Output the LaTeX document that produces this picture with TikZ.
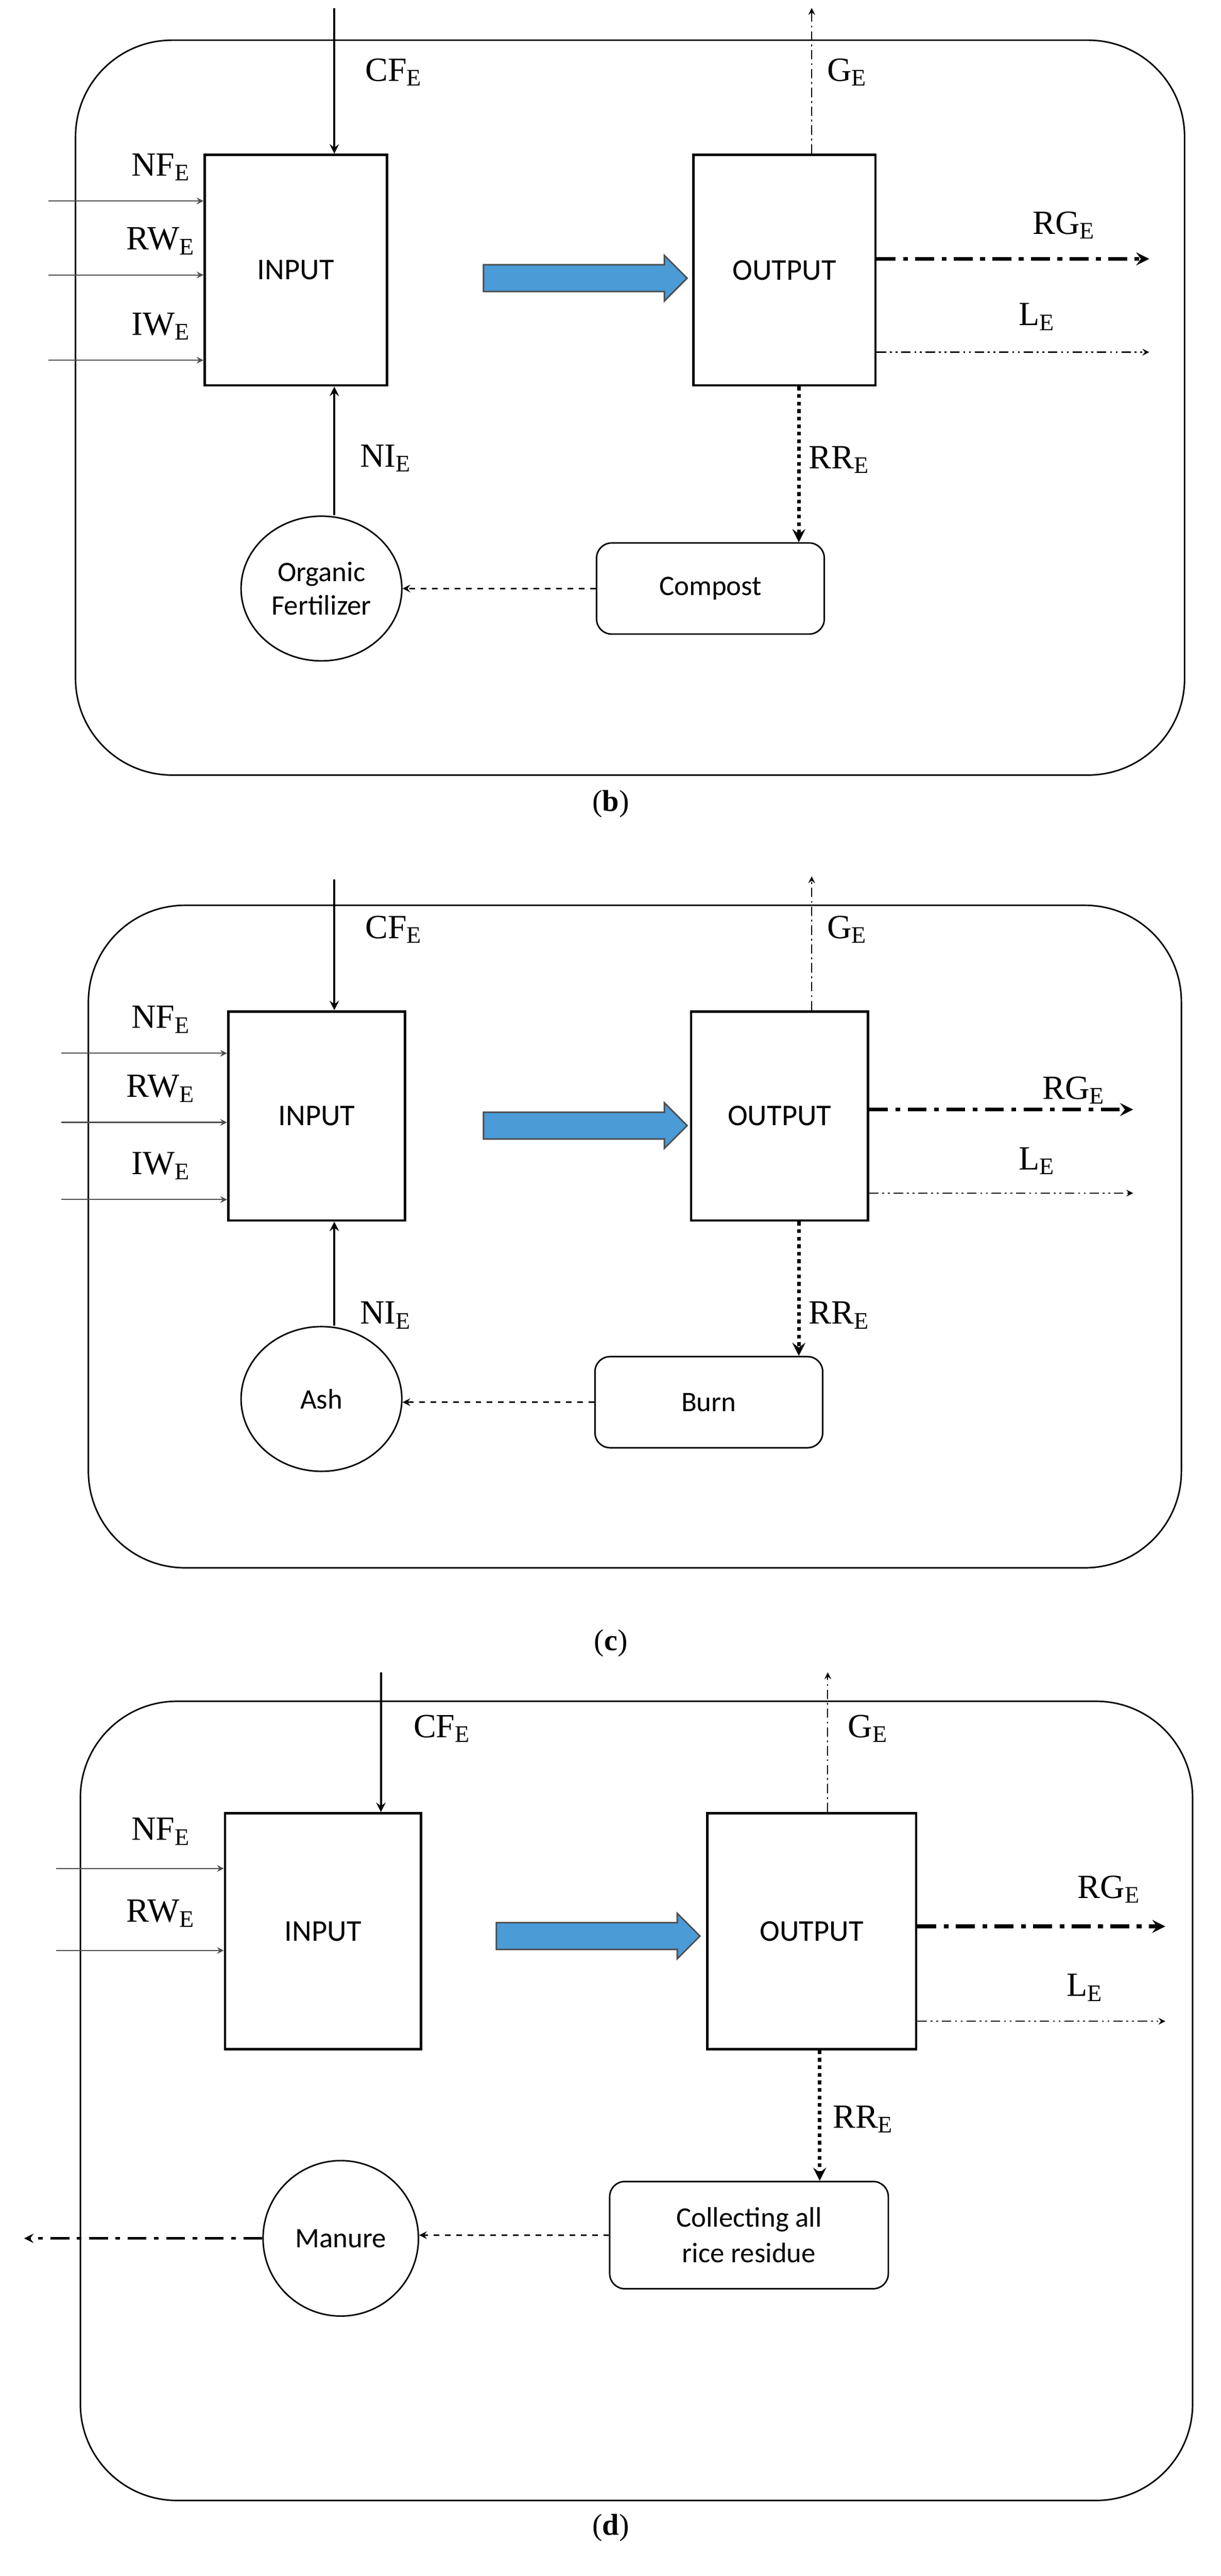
\documentclass[tikz,border=0pt]{standalone}
\usepackage{fontspec}
\setmainfont{Liberation Serif}
\newfontfamily\sansfam{Carlito}
\usetikzlibrary{shapes.geometric,shapes.arrows}
\definecolor{flowblue}{HTML}{4A9BD6}
\tikzset{
  blk/.style={draw, line width=1.3pt, minimum width=3.4cm, minimum height=4.3cm, font=\sansfam\fontsize{16}{19}\selectfont},
  rbox/.style={draw, thick, rounded corners=8pt, minimum width=4.25cm, minimum height=1.7cm, align=center, font=\sansfam\fontsize{15}{19}\selectfont},
  oval/.style={draw, thick, ellipse, minimum width=3cm, minimum height=2.7cm, align=center, inner sep=0pt, font=\sansfam\fontsize{15}{18}\selectfont},
  lab/.style={inner sep=1pt, font=\fontsize{18}{20}\selectfont},
  panelcap/.style={font=\fontsize{16}{18}\selectfont},
  frame/.style={thick, rounded corners=1.8cm},
  bluearr/.style={single arrow, draw=black!70, thick, fill=flowblue, minimum height=3.8cm, minimum width=0.85cm, inner xsep=0pt, inner ysep=0.2cm, single arrow head extend=0.15cm},
  ext/.style={->, line width=1.2pt},
  extin/.style={->, semithick, gray!60!black},
  rg/.style={->, line width=2pt, dash pattern=on 10pt off 4pt on 2.5pt off 4pt},
  lo/.style={->, semithick, dash pattern=on 5pt off 2pt on 1pt off 2pt on 1pt off 2pt},
  go/.style={->, semithick, dash pattern=on 5pt off 2pt on 1pt off 2pt},
  rr/.style={->, line width=2pt, dotted},
  back/.style={->, thick, dashed}
}
\begin{document}
\begin{tikzpicture}[x=0.03cm, y=-0.03cm, >=stealth]
\useasboundingbox (0,0) rectangle (759.5,1602);

% (b)
\draw[frame] (47,25) rectangle (737,482);
\node[blk] (inB) at (184,168) {INPUT};
\node[blk] (outB) at (488,168) {OUTPUT};
\node[bluearr] (ioB) at (360,173) {};
\coordinate (cfB) at (208,5);
\draw[ext] (cfB) -- (cfB |- inB.north);
\node[lab] at (245,45) {CF\textsubscript{E}};
\coordinate (gB) at (505,5);
\draw[go] (gB |- outB.north) -- (gB);
\node[lab] at (527,45) {G\textsubscript{E}};
\foreach \y/\t in {125/NF, 171/RW, 224/IW} {
  \coordinate (s) at (30,\y);
  \draw[extin] (s) -- (s -| inB.west);
  \node[lab] at (100,\y-21) {\t\textsubscript{E}};
}
\coordinate (rgB) at (715,161);
\draw[rg] (rgB -| outB.east) -- (rgB);
\node[lab] at (662,140) {RG\textsubscript{E}};
\coordinate (lB) at (715,219);
\draw[lo] (lB -| outB.east) -- (lB);
\node[lab] at (645,197) {L\textsubscript{E}};
\node[rbox] (cpB) at (442,366) {Compost};
\coordinate (rrB) at (497,290);
\draw[rr] (rrB |- outB.south) -- (rrB |- cpB.north);
\node[lab] at (522,286) {RR\textsubscript{E}};
\node[oval] (ofB) at (200,366) {Organic\\Fertilizer};
\draw[back] (cpB.west) -- (ofB.east);
\coordinate (niB) at (208,290);
\draw[ext] (niB |- ofB.north) -- (niB |- inB.south);
\node[lab] at (240,285) {NI\textsubscript{E}};
\node[panelcap] at (380,500) {(\textbf{b})};

% (c)
\draw[frame] (55,563) rectangle (735,975);
\node[blk, minimum width=3.3cm, minimum height=3.9cm] (inC) at (197,694) {INPUT};
\node[blk, minimum width=3.3cm, minimum height=3.9cm] (outC) at (485,694) {OUTPUT};
\node[bluearr] (ioC) at (360,700) {};
\coordinate (cfC) at (208,547);
\draw[ext] (cfC) -- (cfC |- inC.north);
\node[lab] at (245,578) {CF\textsubscript{E}};
\coordinate (gC) at (505,545);
\draw[go] (gC |- outC.north) -- (gC);
\node[lab] at (527,578) {G\textsubscript{E}};
\foreach \y/\t in {655/NF, 698/RW, 746/IW} {
  \coordinate (s) at (38,\y);
  \draw[extin] (s) -- (s -| inC.west);
  \node[lab] at (100,\y-21) {\t\textsubscript{E}};
}
\coordinate (rgC) at (705,690);
\draw[rg] (rgC -| outC.east) -- (rgC);
\node[lab] at (668,678) {RG\textsubscript{E}};
\coordinate (lC) at (705,742);
\draw[lo] (lC -| outC.east) -- (lC);
\node[lab] at (645,722) {L\textsubscript{E}};
\node[rbox] (buC) at (441,872) {Burn};
\coordinate (rrC) at (497,800);
\draw[rr] (rrC |- outC.south) -- (rrC |- buC.north);
\node[lab] at (522,818) {RR\textsubscript{E}};
\node[oval] (ashC) at (200,870) {Ash};
\draw[back] (buC.west) -- (ashC.east |- buC.west);
\coordinate (niC) at (208,800);
\draw[ext] (niC |- ashC.north) -- (niC |- inC.south);
\node[lab] at (240,818) {NI\textsubscript{E}};
\node[panelcap] at (380,1022) {(\textbf{c})};

% (d)
\draw[frame] (50,1058) rectangle (742,1555);
\node[blk, minimum width=3.66cm, minimum height=4.4cm] (inD) at (201,1201) {INPUT};
\node[blk, minimum width=3.9cm, minimum height=4.4cm] (outD) at (505,1201) {OUTPUT};
\node[bluearr] (ioD) at (368,1204) {};
\coordinate (cfD) at (237,1040);
\draw[ext] (cfD) -- (cfD |- inD.north);
\node[lab] at (275,1075) {CF\textsubscript{E}};
\coordinate (gD) at (515,1040);
\draw[go] (gD |- outD.north) -- (gD);
\node[lab] at (540,1075) {G\textsubscript{E}};
\foreach \y/\t in {1162/NF, 1213/RW} {
  \coordinate (s) at (35,\y);
  \draw[extin] (s) -- (s -| inD.west);
  \node[lab] at (100,\y-23) {\t\textsubscript{E}};
}
\coordinate (rgD) at (725,1198);
\draw[rg] (rgD -| outD.east) -- (rgD);
\node[lab] at (690,1175) {RG\textsubscript{E}};
\coordinate (lD) at (725,1257);
\draw[lo] (lD -| outD.east) -- (lD);
\node[lab] at (675,1236) {L\textsubscript{E}};
\node[rbox, minimum width=5.2cm, minimum height=2cm] (coD) at (466,1390) {Collecting all\\rice residue};
\coordinate (rrD) at (510,1320);
\draw[rr] (rrD |- outD.south) -- (rrD |- coD.north);
\node[lab] at (537,1318) {RR\textsubscript{E}};
\node[oval, circle, minimum size=2.9cm] (maD) at (212,1392) {Manure};
\draw[back] (coD.west) -- (maD.east |- coD.west);
\coordinate (outM) at (15,1392);
\draw[rg, line width=1.2pt] (maD.west) -- (outM);
\node[panelcap] at (380,1572) {(\textbf{d})};
\end{tikzpicture}
\end{document}
